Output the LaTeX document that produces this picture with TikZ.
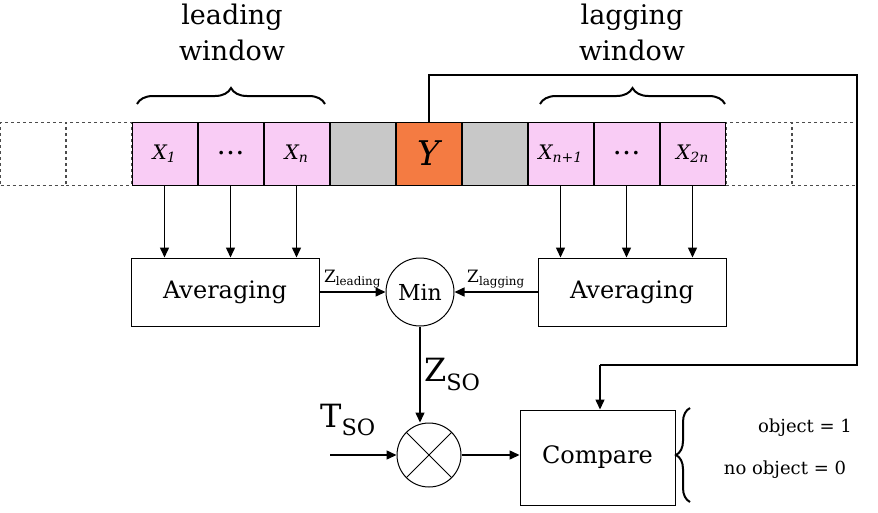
\documentclass[tikz,border=0pt]{standalone}
\usepackage{fontspec}
\setmainfont{DejaVu Serif}
\usetikzlibrary{decorations.pathreplacing,arrows.meta}
\definecolor{pk}{HTML}{F9CCF5}
\definecolor{gr}{HTML}{C8C8C8}
\definecolor{or}{HTML}{F47B42}
\begin{document}
\begin{tikzpicture}[x=1pt,y=-1pt,line width=1.3pt,
 cell/.style={draw,line width=0.8pt,minimum width=65pt,minimum height=63pt,inner sep=0,font=\fontsize{20}{24}\selectfont\itshape},
 dcell/.style={cell,dashed,line width=0.6pt,draw=black!70},
 box/.style={draw,line width=1pt,minimum width=188pt,minimum height=68pt,font=\fontsize{24}{28}\selectfont},
 arr/.style={-{Triangle[length=10pt,width=9pt]},line width=1.5pt},
 br/.style={decorate,decoration={brace,amplitude=16pt},line width=2pt}]
\useasboundingbox (0,0) rectangle (878,512);
\node[dcell] (d1) at (33,153.5) {};
\node[dcell] (d2) at (98.5,153.5) {};
\node[cell,fill=pk] (x1) at (164.5,153.5) {X\textsubscript{1}};
\node[cell,fill=pk] (x2) at (230.5,153.5) {\upshape\fontsize{28}{28}\selectfont\dots};
\node[cell,fill=pk] (xn) at (296.5,153.5) {X\textsubscript{n}};
\node[cell,fill=gr] (g1) at (362.5,153.5) {};
\node[cell,fill=or,font=\fontsize{34}{36}\selectfont\itshape] (y) at (429,153.5) {Y};
\node[cell,fill=gr] (g2) at (494.5,153.5) {};
\node[cell,fill=pk] (x3) at (560.5,153.5) {X\textsubscript{n+1}};
\node[cell,fill=pk] (x4) at (626.5,153.5) {\upshape\fontsize{28}{28}\selectfont\dots};
\node[cell,fill=pk] (x5) at (692.5,153.5) {X\textsubscript{2n}};
\node[dcell] (d3) at (758.5,153.5) {};
\node[dcell] (d4) at (824.5,153.5) {};
\draw[br] (137,104) -- (325,104);
\draw[br] (540,104) -- (725,104);
\node[font=\fontsize{27}{36}\selectfont,align=center] (lw) at (232,32) {leading\\window};
\node[font=\fontsize{27}{36}\selectfont,align=center] (rw) at (632,32) {lagging\\window};
\node[box] (a1) at (225,292) {Averaging};
\node[box] (a2) at (632,292) {Averaging};
\node[draw,line width=1pt,circle,minimum size=68pt,font=\fontsize{22}{26}\selectfont] (m) at (420,292) {Min};
\node[draw,line width=1pt,circle,minimum size=64pt] (o) at (429,455) {};
\draw[line width=1pt] (o.45) -- (o.225) (o.135) -- (o.315);
\node[draw,line width=1pt,minimum width=155pt,minimum height=95pt,font=\fontsize{24}{28}\selectfont] (c) at (597.5,457.5) {Compare};
\foreach \s in {x1,x2,xn}{\draw[arr] (\s.south) -- (\s.south|-a1.north);}
\foreach \s in {x3,x4,x5}{\draw[arr] (\s.south) -- (\s.south|-a2.north);}
\draw[arr] (a1) -- node[above,font=\fontsize{17}{20}\selectfont]{Z\textsubscript{leading}} (m);
\draw[arr] (a2) -- node[above,font=\fontsize{17}{20}\selectfont]{Z\textsubscript{lagging}} (m);
\draw[arr] (m.south) -- node[right,font=\fontsize{32}{36}\selectfont]{Z\textsubscript{SO}} (m.south|-o.north);
\coordinate (t) at (330,455);
\node[font=\fontsize{32}{36}\selectfont] (tl) at (348,420) {T\textsubscript{SO}};
\draw[arr] (t) -- (o);
\draw[arr] (o) -- (c.west|-o);
\coordinate (p1) at (429,75); \coordinate (p2) at (857,75); \coordinate (p3) at (857,365); \coordinate (p4) at (600,365);
\draw (y.north) -- (p1) -- (p2) -- (p3) -- (p4);
\draw[arr] (p4) -- (p4|-c.north);
\draw[br,decoration={amplitude=14pt}] (690,502) -- (690,408);
\node[font=\fontsize{18}{22}\selectfont] (ob) at (805,428) {object = 1};
\node[font=\fontsize{18}{22}\selectfont] (nob) at (785,470) {no object = 0};
\end{tikzpicture}
\end{document}
